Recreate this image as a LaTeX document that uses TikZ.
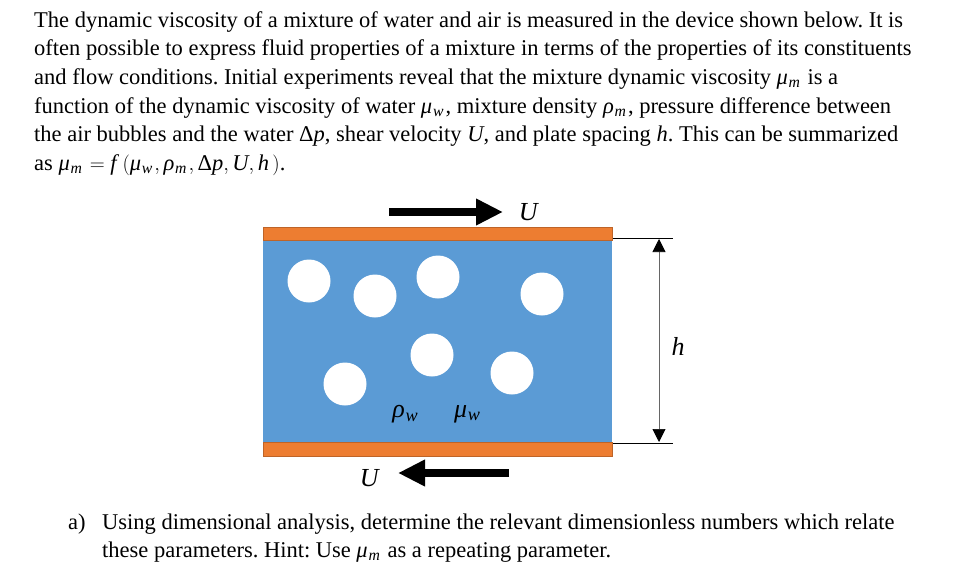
\documentclass[tikz,border=0pt]{standalone}
\usepackage{amsmath}
\usepackage{fontspec}
\setmainfont{Liberation Serif}
\usetikzlibrary{arrows.meta, calc}
\newcommand{\gmu}{\textit{μ}\kern0.8pt}
\newcommand{\grho}{\textit{ρ}\kern0.8pt}
\newcommand{\ivar}[1]{\textit{#1}}
\newcommand{\isub}[1]{_{\textit{#1}\kern1.5pt}}

\tikzset{
	textline/.style={black,anchor=base west,inner sep=0pt,font=\fontsize{22.5}{27}\selectfont\frenchspacing},
	plate/.style={draw={rgb,255:red,190;green,100;blue,40},line width=1pt,fill={rgb,255:red,237;green,125;blue,49}},
	bubble/.style={fill=white,circle,inner sep=0pt,minimum size=43pt},
	symbol/.style={black,font=\fontsize{26}{30}\selectfont},
	fatarrow/.style={-{Triangle[length=27pt,width=25pt]},line width=8pt,black},
	dimline/.style={{Triangle[length=13pt,width=13pt,color=black]}-{Triangle[length=13pt,width=13pt,color=black]},line width=0.7pt,black!60}
}

\begin{document}
\begin{tikzpicture}[x=1pt,y=-1pt]
	\useasboundingbox (0,0) rectangle (955,586);
	
	\node[textline] (L1) at (34,28)  {The dynamic viscosity of a mixture of water and air is measured in the device shown below. It is};
	\node[textline] (L2) at (34,56)  {often possible to express fluid properties of a mixture in terms of the properties of its constituents};
	\node[textline] (L3) at (34,84)  {and flow conditions. Initial experiments reveal that the mixture dynamic viscosity $\gmu\isub{m}$ is a};
	\node[textline] (L4) at (34,113) {function of the dynamic viscosity of water $\gmu\isub{w}$, mixture density $\grho\isub{m}$, pressure difference between};
	\node[textline] (L5) at (34,141) {the air bubbles and the water Δ\ivar{p}, shear velocity \ivar{U}, and plate spacing \ivar{h}. This can be summarized};
	\node[textline] (L6) at (34,170) {as $\gmu\isub{m} = \ivar{f}\;(\gmu\isub{w},\grho\isub{m},\text{Δ}\ivar{p},\ivar{U},\ivar{h}\,)$.};
	
	\fill[fill={rgb,255:red,91;green,155;blue,213}] (263,240) rectangle (612,442);
	\draw[plate] (263.5,227) rectangle (612,240);
	\draw[plate] (263.5,442) rectangle (612,456);
	
	\foreach \name/\x/\y in {B1/309/281, B2/375/296, B3/438/277, B4/542/294, B5/432/355, B6/512/373, B7/345/384}
		\node[bubble] (\name) at (\x,\y) {};
	
	\node[symbol] (RhoW) at (406,414) {$\grho\isub{w}$};
	\node[symbol] (MuW) at (468,414) {$\gmu\isub{w}$};
	
	\coordinate (TopS) at (389,212);
	\coordinate (TopE) at (503,212);
	\coordinate (BotS) at (509,473);
	\coordinate (BotE) at (398,473);
	\node[symbol] (U1) at (529,212) {\ivar{U}};
	\node[symbol] (U2) at (370,478) {\ivar{U}};
	\draw[fatarrow] (TopS)--(TopE);
	\draw[fatarrow] (BotS)--(BotE);
	
	\coordinate (Ext1) at (613,238);
	\coordinate (Ext2) at (613,443);
	\coordinate (End1) at (673,238);
	\coordinate (End2) at (673,443);
	\coordinate (Dim1) at (659,239);
	\coordinate (Dim2) at (659,442);
	\draw[black,line width=0.6pt] (Ext1)--(End1);
	\draw[black,line width=0.6pt] (Ext2)--(End2);
	\draw[dimline] (Dim1)--(Dim2);
	\node[symbol] (H) at (678,346) {\ivar{h}};
	
	\node[textline] (QA) at (68,529) {a)};
	\node[textline] (Q1) at (102,529) {Using dimensional analysis, determine the relevant dimensionless numbers which relate};
	\node[textline] (Q2) at (102,557) {these parameters. Hint: Use $\gmu\isub{m}$ as a repeating parameter.};
\end{tikzpicture}
\end{document}
